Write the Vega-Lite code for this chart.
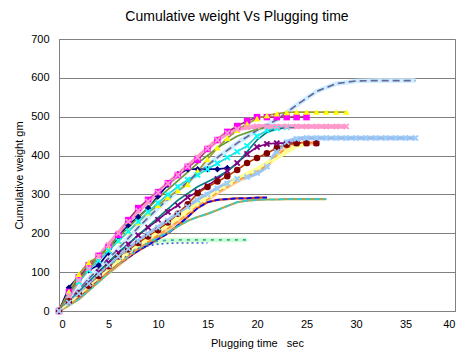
{
  "$schema": "https://vega.github.io/schema/vega-lite/v6.json",
  "width": 396,
  "height": 272,
  "autosize": "none",
  "padding": {"left": 59, "top": 39, "right": 19, "bottom": 52},
  "background": "white",
  "title": {"text": "Cumulative weight Vs Plugging time", "font": "Liberation Sans", "fontSize": 14, "fontWeight": "normal", "color": "#000", "anchor": "middle", "dx": -20, "offset": 9},
  "config": {
    "view": {"stroke": "#808080", "strokeWidth": 1},
    "axis": {"labelFont": "Liberation Sans", "titleFont": "Liberation Sans", "labelFontSize": 11, "titleFontSize": 11, "titleFontWeight": "normal", "labelColor": "#000", "titleColor": "#000", "domainColor": "#808080", "ticks": false}
  },
  "data": {"values": [
    {"s":"S1","t":0,"w":0},{"s":"S1","t":1,"w":60},{"s":"S1","t":2,"w":90},{"s":"S1","t":3,"w":105},{"s":"S1","t":4,"w":118},{"s":"S1","t":5,"w":150},{"s":"S1","t":6,"w":190},{"s":"S1","t":7,"w":221},{"s":"S1","t":8,"w":242},{"s":"S1","t":9,"w":265},{"s":"S1","t":10,"w":295},{"s":"S1","t":11,"w":325},{"s":"S1","t":12,"w":352},{"s":"S1","t":13,"w":365},{"s":"S1","t":14,"w":365},{"s":"S1","t":15,"w":365},{"s":"S1","t":16,"w":365},{"s":"S1","t":17,"w":368},
    {"s":"S2","t":0,"w":0},{"s":"S2","t":1,"w":49},{"s":"S2","t":2,"w":87},{"s":"S2","t":3,"w":118},{"s":"S2","t":4,"w":142},{"s":"S2","t":5,"w":165},{"s":"S2","t":6,"w":196},{"s":"S2","t":7,"w":234},{"s":"S2","t":8,"w":265},{"s":"S2","t":9,"w":286},{"s":"S2","t":10,"w":306},{"s":"S2","t":11,"w":329},{"s":"S2","t":12,"w":350},{"s":"S2","t":13,"w":371},{"s":"S2","t":14,"w":389},{"s":"S2","t":15,"w":417},{"s":"S2","t":16,"w":440},{"s":"S2","t":17,"w":461},{"s":"S2","t":18,"w":476},{"s":"S2","t":19,"w":489},{"s":"S2","t":20,"w":499},{"s":"S2","t":21,"w":499},{"s":"S2","t":22,"w":499},{"s":"S2","t":23,"w":499},{"s":"S2","t":24,"w":499},{"s":"S2","t":25,"w":499},
    {"s":"S3","t":0,"w":0},{"s":"S3","t":1,"w":50},{"s":"S3","t":2,"w":95},{"s":"S3","t":3,"w":125},{"s":"S3","t":4,"w":140},{"s":"S3","t":5,"w":160},{"s":"S3","t":6,"w":180},{"s":"S3","t":7,"w":205},{"s":"S3","t":8,"w":228},{"s":"S3","t":9,"w":253},{"s":"S3","t":10,"w":272},{"s":"S3","t":11,"w":292},{"s":"S3","t":12,"w":310},{"s":"S3","t":13,"w":326},{"s":"S3","t":14,"w":360},{"s":"S3","t":15,"w":390},{"s":"S3","t":16,"w":420},{"s":"S3","t":17,"w":445},{"s":"S3","t":18,"w":465},{"s":"S3","t":19,"w":482},{"s":"S3","t":20,"w":495},{"s":"S3","t":21,"w":503},{"s":"S3","t":22,"w":508},{"s":"S3","t":23,"w":511},{"s":"S3","t":24,"w":512},{"s":"S3","t":25,"w":512},{"s":"S3","t":26,"w":512},{"s":"S3","t":27,"w":512},{"s":"S3","t":28,"w":512},{"s":"S3","t":29,"w":512},
    {"s":"S4","t":0,"w":0},{"s":"S4","t":1,"w":40},{"s":"S4","t":2,"w":75},{"s":"S4","t":3,"w":105},{"s":"S4","t":4,"w":130},{"s":"S4","t":5,"w":155},{"s":"S4","t":6,"w":180},{"s":"S4","t":7,"w":205},{"s":"S4","t":8,"w":230},{"s":"S4","t":9,"w":255},{"s":"S4","t":10,"w":278},{"s":"S4","t":11,"w":300},{"s":"S4","t":12,"w":320},{"s":"S4","t":13,"w":338},{"s":"S4","t":14,"w":350},{"s":"S4","t":15,"w":365},{"s":"S4","t":16,"w":380},{"s":"S4","t":17,"w":395},{"s":"S4","t":18,"w":410},{"s":"S4","t":19,"w":425},{"s":"S4","t":20,"w":450},{"s":"S4","t":21,"w":465},{"s":"S4","t":22,"w":470},{"s":"S4","t":23,"w":473},
    {"s":"S5","t":0,"w":0},{"s":"S5","t":1,"w":25},{"s":"S5","t":2,"w":45},{"s":"S5","t":3,"w":72},{"s":"S5","t":4,"w":100},{"s":"S5","t":5,"w":125},{"s":"S5","t":6,"w":150},{"s":"S5","t":7,"w":172},{"s":"S5","t":8,"w":195},{"s":"S5","t":9,"w":215},{"s":"S5","t":10,"w":235},{"s":"S5","t":11,"w":255},{"s":"S5","t":12,"w":272},{"s":"S5","t":13,"w":293},{"s":"S5","t":14,"w":306},{"s":"S5","t":15,"w":322},{"s":"S5","t":16,"w":340},{"s":"S5","t":17,"w":360},{"s":"S5","t":18,"w":381},{"s":"S5","t":19,"w":404},{"s":"S5","t":20,"w":422},{"s":"S5","t":21,"w":430},{"s":"S5","t":22,"w":432},{"s":"S5","t":23,"w":432},{"s":"S5","t":24,"w":432},{"s":"S5","t":25,"w":432},{"s":"S5","t":26,"w":432},
    {"s":"S6","t":0,"w":0},{"s":"S6","t":1,"w":25},{"s":"S6","t":2,"w":45},{"s":"S6","t":3,"w":65},{"s":"S6","t":4,"w":90},{"s":"S6","t":5,"w":115},{"s":"S6","t":6,"w":140},{"s":"S6","t":7,"w":158},{"s":"S6","t":8,"w":175},{"s":"S6","t":9,"w":192},{"s":"S6","t":10,"w":208},{"s":"S6","t":11,"w":228},{"s":"S6","t":12,"w":250},{"s":"S6","t":13,"w":275},{"s":"S6","t":14,"w":303},{"s":"S6","t":15,"w":319},{"s":"S6","t":16,"w":333},{"s":"S6","t":17,"w":347},{"s":"S6","t":18,"w":363},{"s":"S6","t":19,"w":381},{"s":"S6","t":20,"w":394},{"s":"S6","t":21,"w":406},{"s":"S6","t":22,"w":419},{"s":"S6","t":23,"w":428},{"s":"S6","t":24,"w":432},{"s":"S6","t":25,"w":432},{"s":"S6","t":26,"w":432},
    {"s":"S7","t":0,"w":0},{"s":"S7","t":2,"w":50},{"s":"S7","t":4,"w":100},{"s":"S7","t":6,"w":150},{"s":"S7","t":8,"w":195},{"s":"S7","t":10,"w":240},{"s":"S7","t":12,"w":285},{"s":"S7","t":14,"w":320},{"s":"S7","t":16,"w":345},{"s":"S7","t":17,"w":360},{"s":"S7","t":18,"w":380},{"s":"S7","t":19,"w":410},{"s":"S7","t":20,"w":440},{"s":"S7","t":21,"w":460},{"s":"S7","t":22,"w":468},{"s":"S7","t":23,"w":472},{"s":"S7","t":24,"w":473},
    {"s":"S8","t":0,"w":0},{"s":"S8","t":1,"w":20},{"s":"S8","t":2,"w":35},{"s":"S8","t":3,"w":58},{"s":"S8","t":4,"w":80},{"s":"S8","t":5,"w":100},{"s":"S8","t":6,"w":120},{"s":"S8","t":7,"w":138},{"s":"S8","t":8,"w":155},{"s":"S8","t":9,"w":170},{"s":"S8","t":10,"w":185},{"s":"S8","t":11,"w":200},{"s":"S8","t":12,"w":220},{"s":"S8","t":13,"w":242},{"s":"S8","t":14,"w":265},{"s":"S8","t":15,"w":280},{"s":"S8","t":16,"w":286},{"s":"S8","t":17,"w":288},{"s":"S8","t":18,"w":290},{"s":"S8","t":19,"w":290},{"s":"S8","t":20,"w":292},{"s":"S8","t":21,"w":292},
    {"s":"S9","t":0,"w":0},{"s":"S9","t":2,"w":30},{"s":"S9","t":4,"w":75},{"s":"S9","t":6,"w":120},{"s":"S9","t":8,"w":160},{"s":"S9","t":10,"w":190},{"s":"S9","t":11,"w":202},{"s":"S9","t":12,"w":218},{"s":"S9","t":13,"w":232},{"s":"S9","t":14,"w":242},{"s":"S9","t":15,"w":250},{"s":"S9","t":16,"w":260},{"s":"S9","t":17,"w":270},{"s":"S9","t":18,"w":280},{"s":"S9","t":19,"w":284},{"s":"S9","t":20,"w":286},{"s":"S9","t":21,"w":287},{"s":"S9","t":22,"w":287},{"s":"S9","t":23,"w":288},{"s":"S9","t":24,"w":288},{"s":"S9","t":25,"w":288},{"s":"S9","t":26,"w":288},{"s":"S9","t":27,"w":288},
    {"s":"S10","t":0,"w":0},{"s":"S10","t":1,"w":25},{"s":"S10","t":2,"w":45},{"s":"S10","t":3,"w":70},{"s":"S10","t":4,"w":95},{"s":"S10","t":5,"w":115},{"s":"S10","t":6,"w":135},{"s":"S10","t":7,"w":150},{"s":"S10","t":8,"w":165},{"s":"S10","t":9,"w":175},{"s":"S10","t":10,"w":180},{"s":"S10","t":11,"w":182},{"s":"S10","t":12,"w":183},{"s":"S10","t":13,"w":183},{"s":"S10","t":14,"w":183},{"s":"S10","t":15,"w":183},{"s":"S10","t":16,"w":183},{"s":"S10","t":17,"w":183},{"s":"S10","t":18,"w":183},{"s":"S10","t":19,"w":183},
    {"s":"S11","t":0,"w":0},{"s":"S11","t":2,"w":40},{"s":"S11","t":4,"w":90},{"s":"S11","t":6,"w":130},{"s":"S11","t":8,"w":160},{"s":"S11","t":9,"w":168},{"s":"S11","t":10,"w":172},{"s":"S11","t":11,"w":174},{"s":"S11","t":12,"w":175},{"s":"S11","t":13,"w":175},{"s":"S11","t":14,"w":175},{"s":"S11","t":15,"w":175},
    {"s":"S12","t":0,"w":0},{"s":"S12","t":2,"w":55},{"s":"S12","t":4,"w":110},{"s":"S12","t":6,"w":160},{"s":"S12","t":8,"w":215},{"s":"S12","t":10,"w":265},{"s":"S12","t":12,"w":310},{"s":"S12","t":14,"w":355},{"s":"S12","t":16,"w":395},{"s":"S12","t":18,"w":432},{"s":"S12","t":20,"w":465},{"s":"S12","t":22,"w":492},{"s":"S12","t":24,"w":530},{"s":"S12","t":26,"w":565},{"s":"S12","t":28,"w":585},{"s":"S12","t":30,"w":592},{"s":"S12","t":32,"w":593},{"s":"S12","t":34,"w":593},{"s":"S12","t":36,"w":593},
    {"s":"S13","t":0,"w":0},{"s":"S13","t":1,"w":40},{"s":"S13","t":2,"w":80},{"s":"S13","t":3,"w":110},{"s":"S13","t":4,"w":140},{"s":"S13","t":5,"w":170},{"s":"S13","t":6,"w":200},{"s":"S13","t":7,"w":230},{"s":"S13","t":8,"w":258},{"s":"S13","t":9,"w":282},{"s":"S13","t":10,"w":305},{"s":"S13","t":11,"w":328},{"s":"S13","t":12,"w":350},{"s":"S13","t":13,"w":372},{"s":"S13","t":14,"w":395},{"s":"S13","t":15,"w":418},{"s":"S13","t":16,"w":440},{"s":"S13","t":17,"w":458},{"s":"S13","t":18,"w":468},{"s":"S13","t":19,"w":473},{"s":"S13","t":20,"w":475},{"s":"S13","t":21,"w":475},{"s":"S13","t":22,"w":475},{"s":"S13","t":23,"w":475},{"s":"S13","t":24,"w":475},{"s":"S13","t":25,"w":475},{"s":"S13","t":26,"w":475},{"s":"S13","t":27,"w":475},{"s":"S13","t":28,"w":475},{"s":"S13","t":29,"w":475},
    {"s":"S14","t":0,"w":0},{"s":"S14","t":1,"w":22},{"s":"S14","t":2,"w":45},{"s":"S14","t":3,"w":70},{"s":"S14","t":4,"w":95},{"s":"S14","t":5,"w":118},{"s":"S14","t":6,"w":140},{"s":"S14","t":7,"w":160},{"s":"S14","t":8,"w":180},{"s":"S14","t":9,"w":198},{"s":"S14","t":10,"w":215},{"s":"S14","t":11,"w":232},{"s":"S14","t":12,"w":250},{"s":"S14","t":13,"w":268},{"s":"S14","t":14,"w":285},{"s":"S14","t":15,"w":300},{"s":"S14","t":16,"w":315},{"s":"S14","t":17,"w":328},{"s":"S14","t":18,"w":340},{"s":"S14","t":19,"w":345},{"s":"S14","t":20,"w":355},{"s":"S14","t":21,"w":372},{"s":"S14","t":22,"w":410},{"s":"S14","t":23,"w":435},{"s":"S14","t":24,"w":443},{"s":"S14","t":25,"w":445},{"s":"S14","t":26,"w":445},{"s":"S14","t":27,"w":445},{"s":"S14","t":28,"w":445},{"s":"S14","t":29,"w":445},{"s":"S14","t":30,"w":445},{"s":"S14","t":31,"w":445},{"s":"S14","t":32,"w":445},{"s":"S14","t":33,"w":445},{"s":"S14","t":34,"w":445},{"s":"S14","t":35,"w":445},{"s":"S14","t":36,"w":445},
    {"s":"S15","t":0,"w":0},{"s":"S15","t":2,"w":35},{"s":"S15","t":4,"w":80},{"s":"S15","t":6,"w":120},{"s":"S15","t":8,"w":160},{"s":"S15","t":10,"w":195},{"s":"S15","t":12,"w":230},{"s":"S15","t":14,"w":270},{"s":"S15","t":16,"w":305},{"s":"S15","t":18,"w":335},{"s":"S15","t":20,"w":360},{"s":"S15","t":21,"w":375},{"s":"S15","t":22,"w":400},{"s":"S15","t":23,"w":420},{"s":"S15","t":24,"w":430},{"s":"S15","t":25,"w":432},{"s":"S15","t":26,"w":432},
    {"s":"S16","t":0,"w":0},{"s":"S16","t":2,"w":40},{"s":"S16","t":4,"w":85},{"s":"S16","t":6,"w":130},{"s":"S16","t":8,"w":170},{"s":"S16","t":10,"w":205},{"s":"S16","t":12,"w":240},{"s":"S16","t":14,"w":275},{"s":"S16","t":16,"w":310},{"s":"S16","t":18,"w":340},{"s":"S16","t":20,"w":365},{"s":"S16","t":22,"w":395},{"s":"S16","t":24,"w":425},{"s":"S16","t":25,"w":430},
    {"s":"S17","t":0,"w":0},{"s":"S17","t":1,"w":45},{"s":"S17","t":2,"w":80},{"s":"S17","t":3,"w":110},{"s":"S17","t":4,"w":140},{"s":"S17","t":6,"w":190},{"s":"S17","t":8,"w":240},{"s":"S17","t":10,"w":290},{"s":"S17","t":12,"w":335},{"s":"S17","t":14,"w":380},{"s":"S17","t":16,"w":420},{"s":"S17","t":18,"w":450},{"s":"S17","t":20,"w":468},{"s":"S17","t":21,"w":472}
  ]},
  "encoding": {
    "x": {"field": "t", "type": "quantitative", "scale": {"domain": [0, 40], "nice": false}, "axis": {"values": [0,5,10,15,20,25,30,35,40], "grid": false, "title": "Plugging time\u00a0\u00a0\u00a0sec", "labelPadding": 7, "titlePadding": 8}},
    "y": {"field": "w", "type": "quantitative", "scale": {"domain": [0, 700], "nice": false}, "axis": {"values": [0,100,200,300,400,500,600,700], "grid": true, "gridColor": "#808080", "gridWidth": 1, "gridOpacity": 1, "title": "Cumulative weight gm", "labelPadding": 10, "titlePadding": 6}}
  },
  "layer": [
    {
      "transform": [{"filter": {"field": "s", "oneOf": ["S10","S12","S13","S14","S15","S16"]}}],
      "mark": {"type": "line", "strokeWidth": 4.5},
      "encoding": {
        "detail": {"field": "s"},
        "stroke": {"field": "s", "type": "nominal", "legend": null, "scale": {"domain": ["S10","S12","S13","S14","S15","S16","S8","S9"], "range": ["#CCFFCC","#CCECFF","#FF99CC","#A6C8F0","#FFCC99","#FFFF99","#D04020","#C0A040"]}}
      }
    },
    {
      "transform": [{"filter": {"field": "s", "oneOf": ["S8","S9"]}}],
      "mark": {"type": "line", "strokeWidth": 2.2},
      "encoding": {
        "detail": {"field": "s"},
        "stroke": {"field": "s", "type": "nominal", "legend": null}
      }
    },
    {
      "mark": {"type": "line", "strokeWidth": 1.7},
      "encoding": {
        "color": {"field": "s", "type": "nominal", "legend": null, "scale": {"domain": ["S1","S2","S3","S4","S5","S6","S7","S8","S9","S10","S11","S12","S13","S14","S15","S16","S17"], "range": ["#000080","#993366","#A09A30","#33CCCC","#800080","#C04000","#008080","#0000FF","#33CCCC","#33AABB","#3366CC","#666699","#FF99CC","#99BBE6","#FF9933","#FFFF99","#669933"]}},
        "strokeDash": {"field": "s", "type": "nominal", "legend": null, "scale": {"domain": ["S1","S2","S3","S4","S5","S6","S7","S8","S9","S10","S11","S12","S13","S14","S15","S16","S17"], "range": [[1,0],[1,0],[1,0],[1,0],[1,0],[1,0],[1,0],[5,3],[6,3],[3,5],[2,3],[7,4],[1,0],[1,0],[5,3],[1,0],[1,0]]}}
      }
    },
    {
      "transform": [{"filter": {"field": "s", "oneOf": ["S1","S2","S3","S4","S5","S6","S13","S14"]}}],
      "mark": {"type": "point", "filled": true, "opacity": 1, "size": 42, "strokeWidth": 0},
      "encoding": {
        "fill": {"field": "s", "type": "nominal", "legend": null, "scale": {"domain": ["S1","S2","S3","S4","S5","S6","S13","S14"], "range": ["#000080","#FF00FF","#FFFF00","#00FFFF","#800080","#800000","#FF99CC","#99CCFF"]}},
        "shape": {"field": "s", "type": "nominal", "legend": null, "scale": {"domain": ["S1","S2","S3","S4","S5","S6","S13","S14"], "range": ["diamond","square","triangle-up","M-1,-0.6L-0.6,-1L0,-0.4L0.6,-1L1,-0.6L0.4,0L1,0.6L0.6,1L0,0.4L-0.6,1L-1,0.6L-0.4,0Z","M-1,-0.6L-0.6,-1L0,-0.4L0.6,-1L1,-0.6L0.4,0L1,0.6L0.6,1L0,0.4L-0.6,1L-1,0.6L-0.4,0Z","circle","M-1,-0.6L-0.6,-1L0,-0.4L0.6,-1L1,-0.6L0.4,0L1,0.6L0.6,1L0,0.4L-0.6,1L-1,0.6L-0.4,0Z","M-1,-0.6L-0.6,-1L0,-0.4L0.6,-1L1,-0.6L0.4,0L1,0.6L0.6,1L0,0.4L-0.6,1L-1,0.6L-0.4,0Z"]}}
      }
    }
  ]
}
